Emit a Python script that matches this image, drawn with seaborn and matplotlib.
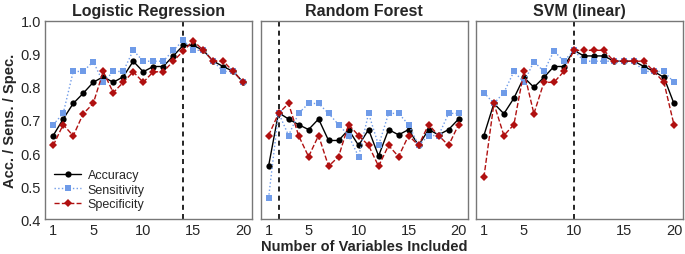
import matplotlib
matplotlib.use("Agg")
import matplotlib.pyplot as plt
import seaborn as sns
import numpy as np
import pandas as pd

sns.set_theme(style="white")
plt.rcParams['font.family'] = ['Liberation Sans', 'DejaVu Sans']

n_vars = list(range(1, 21))
models = ["Logistic Regression", "Random Forest", "SVM (linear)"]
best_n = [14, 2, 10]

lr_acc = [0.653, 0.703, 0.750, 0.781, 0.814, 0.831, 0.814, 0.831, 0.878, 0.846,
          0.862, 0.862, 0.894, 0.926, 0.926, 0.911, 0.878, 0.862, 0.847, 0.814]
lr_sens = [0.686, 0.720, 0.847, 0.847, 0.877, 0.814, 0.847, 0.847, 0.911, 0.878,
           0.878, 0.878, 0.911, 0.941, 0.911, 0.911, 0.878, 0.847, 0.847, 0.814]
lr_spec = [0.623, 0.686, 0.652, 0.719, 0.750, 0.847, 0.783, 0.814, 0.846, 0.814,
           0.846, 0.846, 0.878, 0.909, 0.940, 0.911, 0.878, 0.878, 0.847, 0.814]

rf_acc = [0.560, 0.722, 0.703, 0.686, 0.671, 0.703, 0.638, 0.638, 0.671, 0.623,
          0.671, 0.591, 0.671, 0.655, 0.671, 0.623, 0.671, 0.655, 0.671, 0.703]
rf_sens = [0.463, 0.722, 0.653, 0.720, 0.750, 0.750, 0.720, 0.686, 0.653, 0.589,
           0.720, 0.623, 0.720, 0.720, 0.686, 0.623, 0.653, 0.653, 0.720, 0.720]
rf_spec = [0.653, 0.720, 0.750, 0.653, 0.589, 0.653, 0.560, 0.589, 0.686, 0.653,
           0.623, 0.560, 0.623, 0.589, 0.653, 0.623, 0.686, 0.653, 0.623, 0.686]

svm_acc = [0.653, 0.750, 0.719, 0.766, 0.829, 0.799, 0.829, 0.862, 0.862, 0.911,
           0.894, 0.894, 0.894, 0.878, 0.878, 0.878, 0.862, 0.847, 0.829, 0.750]
svm_sens = [0.783, 0.750, 0.783, 0.847, 0.814, 0.877, 0.847, 0.909, 0.878, 0.911,
            0.878, 0.878, 0.878, 0.878, 0.878, 0.878, 0.847, 0.847, 0.847, 0.814]
svm_spec = [0.526, 0.750, 0.653, 0.686, 0.847, 0.719, 0.814, 0.814, 0.847, 0.911,
            0.911, 0.911, 0.911, 0.878, 0.878, 0.878, 0.878, 0.847, 0.814, 0.686]

series = {
    "Logistic Regression": (lr_acc, lr_sens, lr_spec),
    "Random Forest": (rf_acc, rf_sens, rf_spec),
    "SVM (linear)": (svm_acc, svm_sens, svm_spec),
}

styles = [
    ("Accuracy", "black", "-", "o", 4.5),
    ("Sensitivity", "#6f9be8", ":", "s", 4.5),
    ("Specificity", "#b01010", "--", "D", 4.5),
]

fig, axes = plt.subplots(1, 3, figsize=(6.85, 2.55), dpi=100, sharey=True)
fig.subplots_adjust(left=0.066, right=0.997, top=0.914, bottom=0.137, wspace=0.04)

for ax, model, vline in zip(axes, models, best_n):
    for vals, (name, color, ls, mk, ms) in zip(series[model], styles):
        sns.lineplot(x=n_vars, y=vals, ax=ax, color=color, linestyle=ls, marker=mk,
                     markersize=ms, markeredgewidth=0, linewidth=1.0, label=name)
    ax.axvline(vline, color="black", linestyle="--", linewidth=1.2, dashes=(3, 2.5), zorder=0)
    ax.set_xlim(0.2, 20.9)
    ax.set_ylim(0.4, 1.0)
    ax.set_xticks([1, 5, 10, 15, 20])
    ax.set_yticks(np.arange(0.4, 1.01, 0.1))
    ax.set_yticklabels([f"{t:.1f}" for t in np.arange(0.4, 1.01, 0.1)])
    ax.tick_params(labelsize=10.5, length=0, pad=3)
    ax.set_title(model, fontsize=11.5, fontweight="bold", pad=4)
    for sp in ax.spines.values():
        sp.set_color("#777777")
        sp.set_linewidth(1.0)
    if ax is axes[0]:
        ax.legend(loc="lower left", frameon=False, fontsize=9, handlelength=2.2,
                  handletextpad=0.5, labelspacing=0.2, borderaxespad=0.3)
    else:
        ax.get_legend().remove()

axes[0].set_ylabel("Acc. / Sens. / Spec.", fontsize=10.5, fontweight="bold", labelpad=3)
axes[1].set_xlabel("Number of Variables Included", fontsize=10.5, fontweight="bold", labelpad=1)

fig.savefig("out.png", dpi=100)
